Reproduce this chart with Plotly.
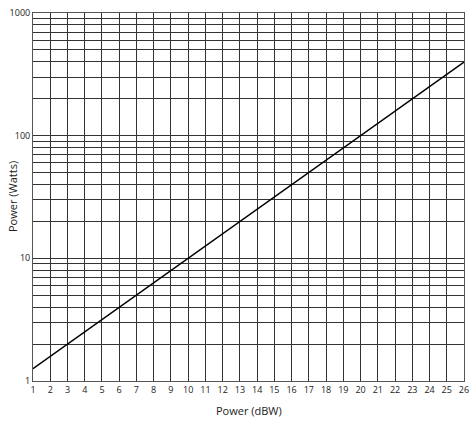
import plotly.graph_objects as go

power_dbw = [1, 26]
power_watts = [1.26, 398]
x_ticks = list(range(1, 27))
y_ticks = [1, 10, 100, 1000]
y_minor = [v * m for m in [1, 10, 100] for v in range(2, 10)]

fig = go.Figure()
fig.add_trace(go.Scatter(x=power_dbw, y=power_watts, mode="lines",
                         line=dict(color="black", width=1.5), showlegend=False,
                         hoverinfo="skip"))

font = dict(family="Open Sans, Liberation Sans, sans-serif", size=9, color="#222")

fig.update_layout(
    width=474, height=421,
    margin=dict(l=33, r=10, t=13, b=40),
    paper_bgcolor="white", plot_bgcolor="white",
    font=font,
    xaxis=dict(range=[1, 26], tickvals=x_ticks, showgrid=True, gridcolor="#333",
               gridwidth=1, showline=True, linecolor="#555", mirror=True,
               zeroline=False, ticks="", ticklen=0, automargin=False),
    yaxis=dict(type="log", range=[0, 3], tickvals=y_ticks, ticktext=[str(v) for v in y_ticks],
               showgrid=True, gridcolor="#333", gridwidth=1, showline=True,
               linecolor="#555", mirror=True, zeroline=False, ticks="", automargin=False,
               minor=dict(tickvals=y_minor, showgrid=True, gridcolor="#333", gridwidth=1)),
    annotations=[
        dict(text="Power (dBW)", xref="paper", yref="paper", x=0.5, y=0,
             yshift=-29, yanchor="middle", showarrow=False, font=dict(size=11)),
        dict(text="Power (Watts)", xref="paper", yref="paper", x=0, y=0.5,
             xshift=-21, xanchor="center", textangle=-90, showarrow=False,
             font=dict(size=11)),
    ],
)

fig.write_html("out.html", config={"displayModeBar": False},
               post_script="document.body.style.margin='0';document.body.style.overflow='hidden';")
